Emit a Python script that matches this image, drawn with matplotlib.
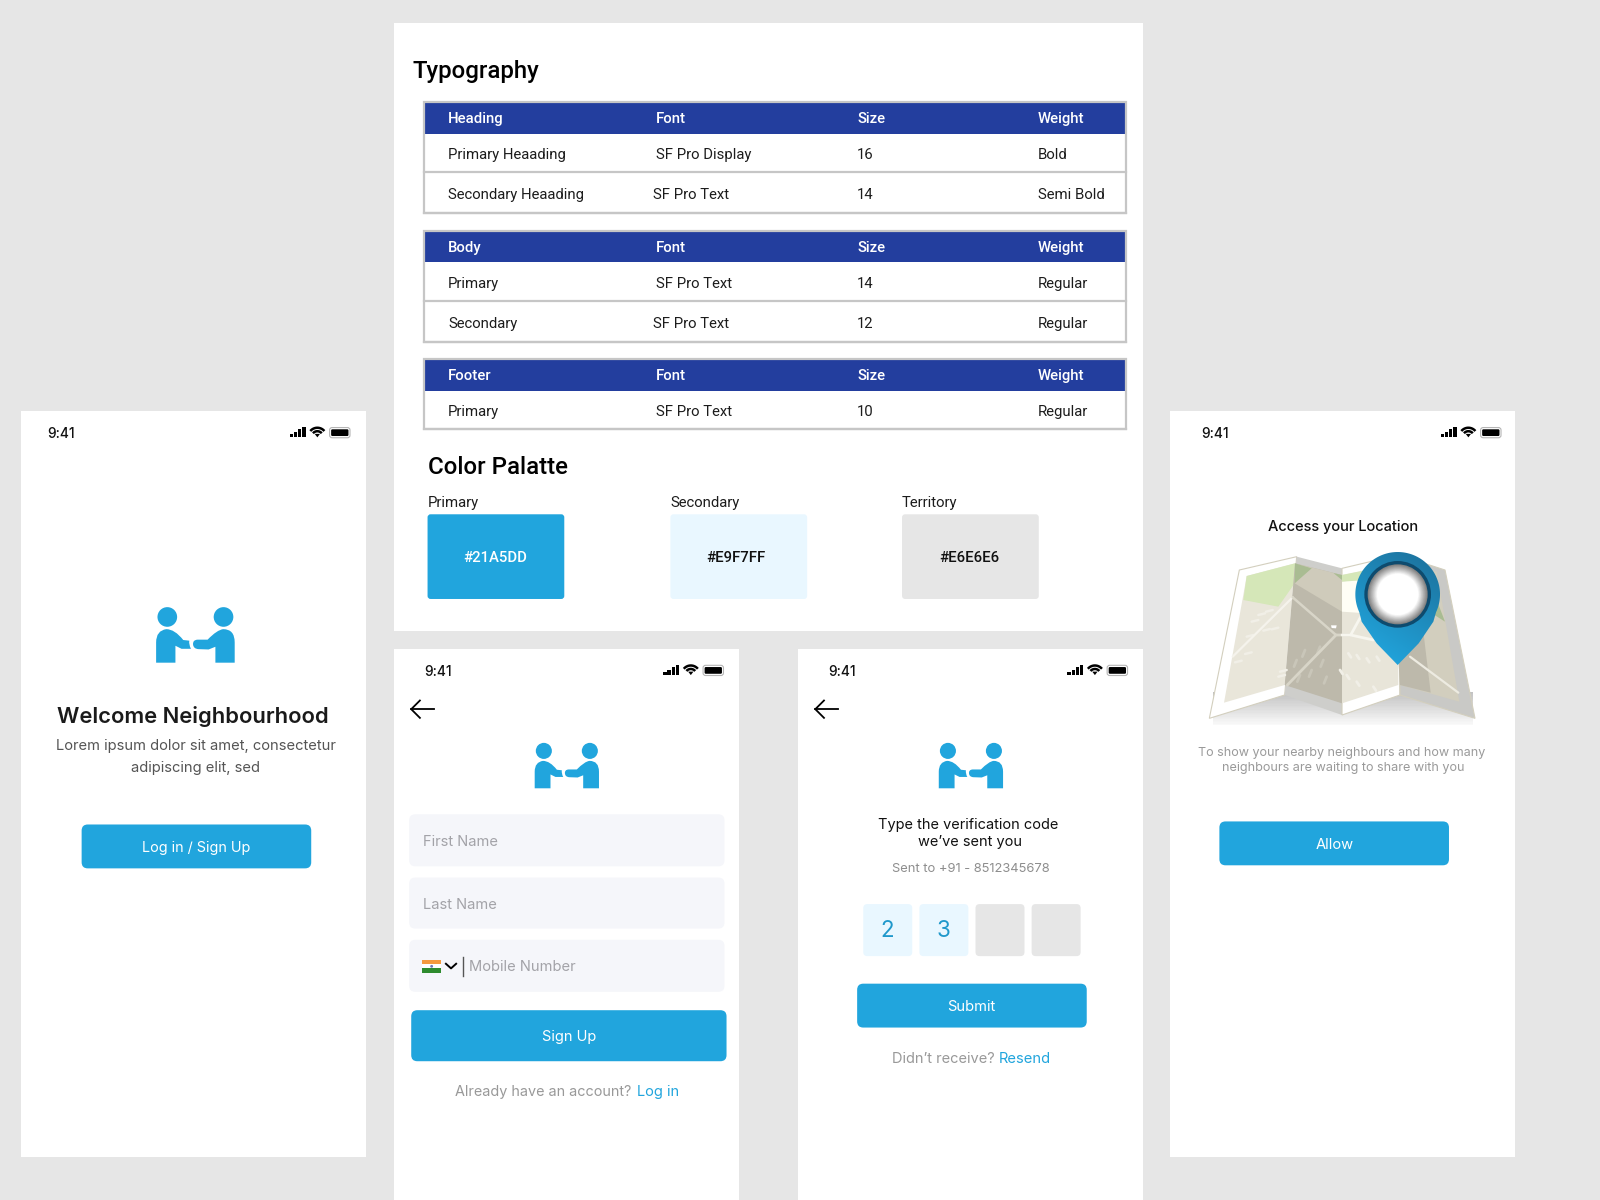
import numpy as np
import matplotlib
matplotlib.use("Agg")
import matplotlib.pyplot as plt
from matplotlib.patches import Rectangle, FancyBboxPatch, Circle, Polygon, PathPatch
from matplotlib.path import Path

BG = "#E6E6E6"
BLUE = "#21A5DD"
NAVY = "#233E9E"
plt.rcParams["font.family"] = ["Inter", "DejaVu Sans"]

table_headers = [["Heading", "Font", "Size", "Weight"],
                 ["Body", "Font", "Size", "Weight"],
                 ["Footer", "Font", "Size", "Weight"]]
table_rows = [[["Primary Heaading", "SF Pro Display", "16", "Bold"],
               ["Secondary Heaading", "SF Pro Text", "14", "Semi Bold"]],
              [["Primary", "SF Pro Text", "14", "Regular"],
               ["Secondary", "SF Pro Text", "12", "Regular"]],
              [["Primary", "SF Pro Text", "10", "Regular"]]]
palette_names = ["Primary", "Secondary", "Territory"]
palette_codes = ["#21A5DD", "#E9F7FF", "#E6E6E6"]
code_digits = ["2", "3", "", ""]

fig = plt.figure(figsize=(16, 12), dpi=100, facecolor=BG)
ax = fig.add_axes([0, 0, 1, 1])
ax.set_xlim(0, 1568)
ax.set_ylim(1176, 0)
ax.axis("off")

def T(x, y, s, px, color="#111111", ha="left", weight="normal", z=10, font=None):
    kw = {"family": [font, "DejaVu Sans"]} if font else {}
    ax.text(x, y + 2.1, s, fontsize=px * 0.735, color=color, ha=ha, va="center", weight=weight, zorder=z, **kw)

def R(x0, y0, x1, y1, color, ec="none", lw=0, z=2):
    ax.add_patch(Rectangle((x0, y0), x1 - x0, y1 - y0, fc=color, ec=ec, lw=lw, zorder=z))

def RR(x0, y0, x1, y1, color, r=6, z=3, ec="none", lw=0):
    ax.add_patch(FancyBboxPatch((x0 + r, y0 + r), x1 - x0 - 2 * r, y1 - y0 - 2 * r,
                                boxstyle=f"round,pad={r},rounding_size={r}", fc=color, ec=ec, lw=lw, zorder=z))

def curved(pts, **kw):
    verts, codes = [pts[0][:2]], [Path.MOVETO]
    for p in pts[1:]:
        if len(p) == 4:
            verts += [p[:2], p[2:]]
            codes += [Path.CURVE3, Path.CURVE3]
        else:
            verts.append(p)
            codes.append(Path.LINETO)
    verts.append(pts[0][:2])
    codes.append(Path.CLOSEPOLY)
    return PathPatch(Path(verts, codes), **kw)

def people(x0, y0, width):
    k = width / 232.0
    f = lambda pts: [tuple((v - (470 if i % 2 == 0 else 621)) * k + (x0 if i % 2 == 0 else y0)
                           for i, v in enumerate(p)) for p in pts]
    for cx in (503, 669):
        ax.add_patch(Circle(((cx - 470) * k + x0, (650 - 621) * k + y0), 29 * k, fc=BLUE, ec="none", zorder=5))
    left = [(470, 785), (470, 725), (470, 690, 500, 686), (525, 686, 550, 718), (568, 720),
            (566, 732, 573, 744), (545, 744), (527, 735), (527, 785)]
    right = [(702, 785), (702, 725), (702, 686, 668, 686), (650, 688, 622, 717), (592, 717),
             (578, 718, 579, 731), (580, 744, 595, 745), (625, 746), (645, 738), (645, 785)]
    for p in (left, right):
        ax.add_patch(curved(f(p), fc=BLUE, ec="none", zorder=5))

def status(tx, sig, y):
    T(tx, y - 1, "9:41", 13.5, weight="medium")
    for i, h in enumerate([3, 5, 8, 10]):
        R(sig + i * 4.1, y + 4.5 - h, sig + i * 4.1 + 3.2, y + 4.5, "#000000", z=5)
    wx = sig + 27
    for r, lw in [(9, 1.8), (5.6, 1.8)]:
        t = np.radians(np.linspace(-140, -40, 20))
        ax.plot(wx + r * np.cos(t), y + 4.2 + r * np.sin(t), color="k", lw=lw, zorder=5, solid_capstyle="butt")
    ax.add_patch(Polygon([(wx - 2.6, y + 1.2), (wx + 2.6, y + 1.2), (wx, y + 4.6)], fc="k", ec="none", zorder=5))
    bx = sig + 39
    RR(bx, y - 5, bx + 20, y + 5, "#FFFFFF", r=2.5, z=4, ec="#B5B5B5", lw=0.8)
    RR(bx + 1.5, y - 3.3, bx + 18.5, y + 3.3, "#000000", r=1.2, z=5)

def back(x, y):
    ax.plot([x, x + 22], [y, y], color="k", lw=1.3, zorder=5)
    ax.plot([x + 8.5, x, x + 8.5], [y - 8.5, y, y + 8.5], color="k", lw=1.3, zorder=5)

# panels
R(21, 403, 359, 1134, "white")
R(386, 23, 1120, 618, "white")
R(386, 636, 724, 1176, "white")
R(782, 636, 1120, 1176, "white")
R(1147, 403, 1485, 1134, "white")

# typography
RB = "Roboto"
T(404, 68, "Typography", 23.5, weight="medium", color="#000000", font=RB)
table_tops = [100, 226, 352]
col_x = [439, 643, 840, 1017]
row_text_x = {1: [439, 640, 840, 1017]}
for n, (top, hdr, rows) in enumerate(zip(table_tops, table_headers, table_rows)):
    R(416, top + 1, 1103, top + 31, NAVY, z=3)
    for x, s in zip(col_x, hdr):
        T(x, top + 14.5, s, 14.6, color="white", weight="medium", font=RB)
    y = top + 31
    for i, row in enumerate(rows):
        h = 38 if i == 0 else 40
        if n == 2:
            h = 37
        xs = row_text_x.get(i, col_x)
        for x, s in zip(xs, row):
            T(x, y + h / 2 + (0.2 if i == 0 else 0.4), s, 14.6, color="#1c1c1c", font=RB)
        y += h
        ax.plot([416, 1103], [y, y], color="#C6C6C6", lw=1.6, zorder=4)
    ax.add_patch(Rectangle((416, top), 687, y - top, fc="none", ec="#C6C6C6", lw=1.6, zorder=4))

T(419, 456, "Color Palatte", 23.5, weight="medium", color="#000000", font=RB)
for x0, name, code, tx, col in zip([419, 657, 884], palette_names, palette_codes, [485.5, 721.5, 950],
                                   ["white", "#111111", "#111111"]):
    T(x0, 491, name, 14.6, color="#1c1c1c", font=RB)
    RR(x0, 504, x0 + 134, 587, code, r=3)
    T(tx, 545, code, 14.6, color=col, ha="center", weight="medium", font=RB)

# welcome
status(46, 284, 424)
people(153, 595, 77)
T(188.5, 700, "Welcome Neighbourhood", 21.5, ha="center", weight="semibold", color="#1a1a1a")
T(192, 729, "Lorem ipsum dolor sit amet, consectetur", 14.4, ha="center", color="#555555")
T(192, 751, "adipiscing elit, sed", 14.4, ha="center", color="#555555")
RR(80, 808, 305, 851, BLUE, r=6)
T(192, 828.5, "Log in / Sign Up", 14.1, ha="center", color="white")

# sign up
status(416, 650, 657)
back(403, 695)
people(524, 728, 63)
for y0, y1 in [(798, 849), (860, 910), (921, 972)]:
    RR(401, y0, 710, y1, "#F5F6FA", r=6)
T(415, 823, "First Name", 14.4, color="#A3A3A8")
T(415, 884.5, "Last Name", 14.4, color="#A3A3A8")
T(460, 946, "Mobile Number", 14.4, color="#A3A3A8")
R(414, 941, 432, 945, "#F59A3E", z=5)
R(414, 945, 432, 949, "#FFFFFF", z=5)
R(414, 949, 432, 953.5, "#2E8B2E", z=5)
ax.add_patch(Circle((423, 947), 1.4, fc="#6E79B8", ec="none", zorder=6))
ax.plot([437, 442, 447], [944.5, 949, 944.5], color="k", lw=1.4, zorder=5)
ax.plot([453.5, 453.5], [938, 956], color="#555555", lw=1, zorder=5)
RR(403, 990, 712, 1040, BLUE, r=6)
T(558, 1014.5, "Sign Up", 14.3, ha="center", color="white")
T(446, 1068.5, "Already have an account?", 14.1, color="#999999")
T(624, 1068.5, "Log in", 14.3, color=BLUE)

# verification
status(812, 1046, 657)
back(799, 695)
people(920, 728, 63)
T(949, 806, "Type the verification code", 14.25, ha="center")
T(951, 823.5, "we’ve sent you", 14.25, ha="center")
T(951, 850, "Sent to +91 - 8512345678", 12.7, ha="center", color="#8E8E8E")
for x0, d, c in zip([846, 901, 956, 1011], code_digits, ["#E9F7FF", "#E9F7FF", BG, BG]):
    RR(x0, 886, x0 + 48, 937, c, r=4)
    if d:
        T(x0 + 23.5, 910.5, d, 22, ha="center", color="#1F98CB")
RR(840, 964, 1065, 1007, BLUE, r=6)
T(952, 984.5, "Submit", 14.4, ha="center", color="white")
T(874, 1035.5, "Didn’t receive?", 14.3, color="#999999")
T(979, 1035.5, "Resend", 14.4, color=BLUE)

# location
status(1177, 1412, 424)
T(1316, 514, "Access your Location", 14.3, ha="center", weight="medium")
T(1314.5, 736, "To show your nearby neighbours and how many", 12.3, ha="center", color="#9A9A9A")
T(1316, 751, "neighbours are waiting to share with you", 12.4, ha="center", color="#9A9A9A")
RR(1195, 805, 1420, 848, BLUE, r=6)
T(1308, 826, "Allow", 14.4, ha="center", color="white")

def M(zx, zy):
    return ((1180 + zx / 3) / 1.0204, (500 + zy / 3) / 1.0204)

def poly(pts, color, z=5, ec="none", lw=0, alpha=1):
    ax.add_patch(Polygon([M(*p) for p in pts], fc=color, ec=ec, lw=lw, zorder=z, alpha=alpha))

def road(pts, color="#EFEDE4", lw=1.6, z=5.5):
    xy = np.array([M(*p) for p in pts])
    ax.plot(xy[:, 0], xy[:, 1], color=color, lw=lw, zorder=z, solid_capstyle="round")

# shadow fading downward
n = 24
for i in range(n):
    a = i / n
    ytop = 575 + 100 * a
    c = 0.76 + 0.225 * a
    poly([(100, ytop), (880, ytop), (880, 676), (100, 676)], (c, c, c), z=4)
# sheets
edge = "#D3CFBE"
poly([(178, 210), (350, 170), (314, 585), (88, 655)], "#FFFFFF", ec=edge, lw=0.8)
poly([(350, 170), (486, 205), (486, 645), (314, 585)], "#CECECB")
poly([(486, 205), (655, 165), (660, 585), (486, 645)], "#FFFFFF", ec=edge, lw=0.8)
poly([(655, 165), (795, 210), (885, 655), (660, 585)], "#C9C9C6", ec=edge, lw=0.8)
# printed map
poly([(200, 228), (345, 190), (314, 555), (132, 608)], "#E9E6DA")
poly([(200, 228), (345, 190), (344, 250), (295, 320), (190, 300)], "#D5E7B8")
poly([(345, 190), (486, 225), (486, 610), (314, 555)], "#BDB9AB")
poly([(345, 190), (486, 225), (486, 335), (344, 250)], "#CFCBBB")
poly([(345, 190), (395, 205), (344, 250)], "#A9BC92")
poly([(486, 225), (655, 190), (655, 555), (486, 610)], "#E8E5D9")
poly([(486, 245), (560, 235), (560, 340), (486, 335)], "#FFFEF5")
poly([(460, 219), (486, 225), (486, 240)], "#A9BC92")
poly([(486, 225), (560, 210), (560, 240), (486, 245)], "#D5E7B8")
poly([(655, 190), (770, 215), (838, 605), (660, 555)], "#D2CEBE")
poly([(730, 395), (752, 578), (660, 555), (655, 480)], "#BDB9AB")
poly([(770, 300), (795, 365), (740, 330)], "#A9BC92")
# roads
road([(158, 470), (338, 292)], color="#F5F3EC", lw=1.6)
road([(338, 292), (468, 405)], color="#D8D5C8", lw=1.8)
road([(322, 555), (468, 405), (512, 405)], color="#D8D5C8", lw=2.0)
road([(486, 405), (512, 405), (580, 420)], color="#F7F6EF", lw=2.0)
road([(512, 405), (545, 345)], color="#F7F6EF", lw=2.0)
road([(690, 470), (835, 578)], color="#EDEBE1", lw=1.6)
# building ticks
for p in [(235, 345), (258, 335), (215, 365), (250, 392), (275, 388), (200, 410),
          (165, 487), (195, 462), (300, 515), (295, 530)]:
    road([p, (p[0] + 20, p[1] - 5)], color="#F1EFE7", lw=1.8, z=5.3)
for p in [(350, 480), (375, 450), (395, 510), (420, 440), (440, 530), (360, 525), (430, 480)]:
    road([p, (p[0] - 8, p[1] + 20)], color="#C9C6B9", lw=2, z=5.3)
for p in [(505, 460), (530, 465), (560, 475), (590, 470), (480, 510), (500, 525), (530, 545), (580, 560)]:
    road([p, (p[0] + 8, p[1] + 12)], color="#F1EFE7", lw=2, z=5.3)
poly([(453, 376), (470, 376), (468, 385), (455, 384)], "#FFFFFF", z=5.6)
# pin with blended fill
cx, cy, rp = 653, 283, 127
pin = [(653, 495), (590, 430), (545, 365)] + \
      [(cx + rp * np.cos(t), cy + rp * np.sin(t)) for t in np.radians(np.linspace(155, 385, 80))] + \
      [(760, 365), (716, 430)]
pin_patch = Polygon([M(*p) for p in pin], fc="none", ec="none", zorder=6)
ax.add_patch(pin_patch)
g = np.linspace(0, 1, 128)[:, None] * np.ones((1, 128)) + np.ones((128, 1)) * (1 - np.linspace(0, 1, 128))[None, :] * 0.5
g = np.clip(g / 1.3, 0, 1)
c0 = np.array([0x1C, 0x6E, 0x98]) / 255
c1 = np.array([0x21, 0xA5, 0xDD]) / 255
rgb = c0[None, None, :] + (c1 - c0)[None, None, :] * g[:, :, None]
x0, y0 = M(520, 150)
x1, y1 = M(785, 500)
im = ax.imshow(rgb, extent=(x0, x1, y1, y0), zorder=6, aspect="auto", interpolation="bilinear")
im.set_clip_path(pin_patch)
ax.set_xlim(0, 1568)
ax.set_ylim(1176, 0)
pc = M(cx, cy)
kz = 1 / 3 / 1.0204
ax.add_patch(Circle(pc, 100 * kz, fc="#0E4B6E", ec="none", zorder=7))
for r, c in zip(np.linspace(90, 62, 15), np.linspace(0.50, 1.0, 15)):
    ax.add_patch(Circle(pc, r * kz, fc=(c, c, c), ec="none", zorder=8))

fig.savefig("out.png", dpi=100, facecolor=BG)
